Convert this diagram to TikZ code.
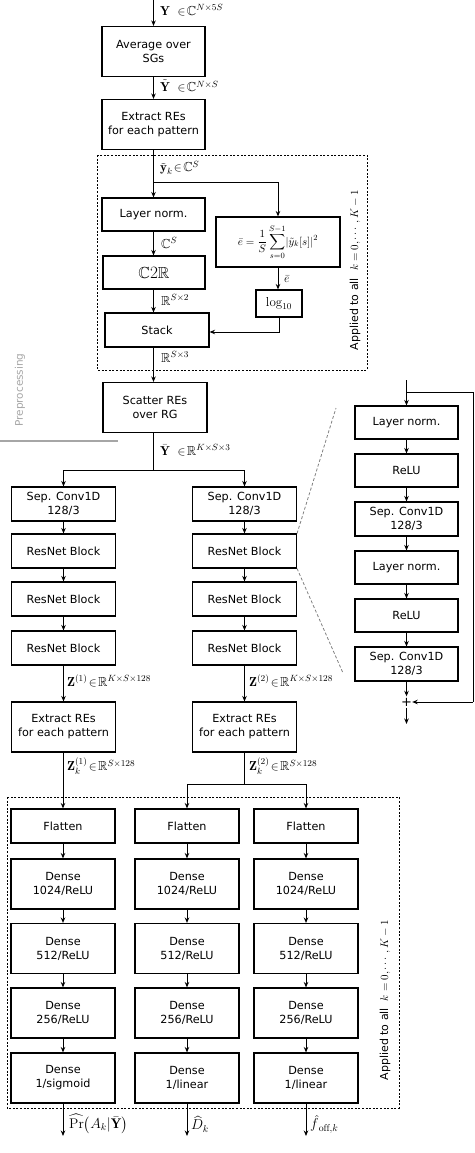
\documentclass[tikz,border=0pt]{standalone}
\usepackage{amsmath,amssymb}
\usepackage{fontspec}
\newfontfamily\vf{DejaVu Sans}
\usetikzlibrary{arrows.meta}
\tikzset{
  blk/.style={draw, line width=1.1pt, inner sep=1pt, align=center,
    font={\vf\fontsize{11.2}{14}\selectfont}, minimum width=104pt, minimum height=34pt},
  tall/.style={minimum height=50pt},
  arr/.style={-{Stealth[length=5.5pt,width=4.5pt]}, line width=1pt},
  ln/.style={line width=1pt},
  lbl/.style={anchor=west, inner sep=0pt, font={\fontsize{13}{15}\selectfont}},
  dbox/.style={dash pattern=on 2pt off 1.6pt, line width=1pt},
  zoomln/.style={gray, dash pattern=on 3pt off 2pt, line width=0.8pt},
  rot/.style={rotate=90, inner sep=0pt, font={\vf\fontsize{11}{13}\selectfont}}
}
\begin{document}
\begin{tikzpicture}[x=1pt,y=-1pt]
\useasboundingbox (0,0) rectangle (474,1153);

% ---------- preprocessing ----------
\coordinate (in) at (153.5,0);
\node[blk,tall,minimum width=103pt] (avg) at (153.5,51.5) {Average over\\SGs};
\node[blk,tall,minimum width=103pt] (ext) at (153.5,124.5) {Extract REs\\for each pattern};
\node[blk,minimum width=103pt,minimum height=33pt] (lnorm) at (153.5,214.5) {Layer norm.};
\node[blk,minimum width=102pt,minimum height=33pt,font={\fontsize{16}{18}\selectfont}] (c2r) at (154,272.5) {$\mathbb{C}2\mathbb{R}$};
\node[blk,minimum width=104pt] (stack) at (157,330) {Stack};
\node[blk,tall,minimum width=124pt,font={\fontsize{11}{13}\selectfont}] (eb) at (278,242)
  {$\displaystyle\bar{e}=\frac{1}{S}\sum_{s=0}^{S-1}\lvert\tilde{y}_k[s]\rvert^2$};
\node[blk,minimum width=46pt,minimum height=27pt,font={\fontsize{13}{15}\selectfont}] (lg) at (279,303.5) {$\log_{10}$};
\node[blk,tall,minimum width=104pt] (sc) at (155,407.5) {Scatter REs\\over RG};

\draw[dbox] (97,155) rectangle (367,370);
\node[rot] (app1) at (355,270) {Applied to all\ \ $k=0,\cdots,K-1$};

\draw[arr] (in) -- (avg.north);
\node[lbl] (l1) at (160,10) {$\mathbf{Y}\ \in\!\mathbb{C}^{N\times 5S}$};
\draw[arr] (avg.south) -- (ext.north);
\node[lbl] (l2) at (160,86) {$\tilde{\mathbf{Y}}\ \in\!\mathbb{C}^{N\times S}$};
\draw[arr] (ext.south) -- (lnorm.north);
\node[lbl] (l3) at (160,168) {$\tilde{\mathbf{y}}_k\!\in\!\mathbb{C}^{S}$};
\coordinate (br1) at (153.5,182);
\draw[arr] (br1) -| (eb.north);
\draw[arr] (lnorm.south) -- (lnorm.south |- c2r.north);
\node[lbl] (l4) at (161,243) {$\mathbb{C}^{S}$};
\draw[arr] (lnorm.south |- c2r.south) -- (lnorm.south |- stack.north);
\node[lbl] (l5) at (161,300) {$\mathbb{R}^{S\times 2}$};
\draw[arr] (eb.south) -- (eb.south |- lg.north);
\node[lbl] (l6) at (284,279) {$\bar{e}$};
\draw[arr] (lg.south) |- ([yshift=-2pt]stack.east);
\draw[arr] (lnorm.south |- stack.south) -- (lnorm.south |- sc.north);
\node[lbl] (l7) at (161,357) {$\mathbb{R}^{S\times 3}$};

% preprocessing marker
\draw[gray!70, line width=1.6pt] (0,441) -- (118,441);
\node[rot, gray!70, font={\vf\fontsize{10.5}{12}\selectfont}] (pre) at (20,390) {Preprocessing};

% ---------- branch into two trunks ----------
\coordinate (br2) at (153.5,470);
\draw[ln] (lnorm.south |- sc.south) -- (br2);
\node[lbl] (l8) at (160,450) {$\bar{\mathbf{Y}}\ \in\!\mathbb{R}^{K\times S\times 3}$};

\foreach \c/\x in {L/63.5, M/244.5}{
  \node[blk] (sep\c) at (\x,504) {Sep. Conv1D\\128/3};
  \node[blk] (ra\c) at (\x,551) {ResNet Block};
  \node[blk] (rb\c) at (\x,599) {ResNet Block};
  \node[blk] (rc\c) at (\x,648) {ResNet Block};
  \node[blk,tall] (ex\c) at (\x,727) {Extract REs\\for each pattern};
  \draw[arr] (sep\c.south) -- (ra\c.north);
  \draw[arr] (ra\c.south) -- (rb\c.north);
  \draw[arr] (rb\c.south) -- (rc\c.north);
  \draw[arr] (rc\c.south) -- (ex\c.north);
}
\draw[arr] (br2) -| (sepL.north);
\draw[arr] (br2) -| (sepM.north);
\node[lbl] (l9) at (67,681) {$\mathbf{Z}^{(1)}\!\in\!\mathbb{R}^{K\times S\times 128}$};
\node[lbl] (l10) at (249,681) {$\mathbf{Z}^{(2)}\!\in\!\mathbb{R}^{K\times S\times 128}$};
\node[lbl] (l11) at (67,766) {$\mathbf{Z}_k^{(1)}\!\in\!\mathbb{R}^{S\times 128}$};
\node[lbl] (l12) at (249,766) {$\mathbf{Z}_k^{(2)}\!\in\!\mathbb{R}^{S\times 128}$};

% ---------- ResNet block detail ----------
\node[blk,minimum width=103pt,minimum height=33pt] (d1) at (406.5,422.5) {Layer norm.};
\node[blk,minimum width=103pt,minimum height=33pt] (d2) at (406.5,470.5) {ReLU};
\node[blk,minimum width=103pt] (d3) at (406.5,519) {Sep. Conv1D\\128/3};
\node[blk,minimum width=103pt,minimum height=33pt] (d4) at (406.5,567.5) {Layer norm.};
\node[blk,minimum width=103pt,minimum height=33pt] (d5) at (406.5,615.5) {ReLU};
\node[blk,minimum width=103pt] (d6) at (406.5,664) {Sep. Conv1D\\128/3};
\node[inner sep=0pt, minimum size=11pt, font={\vf\fontsize{13}{13}\selectfont}] (plus) at (406.5,702) {+};
\coordinate (din) at (406.5,380);
\coordinate (dfb) at (406.5,392);
\coordinate (dcr1) at (473,392);
\coordinate (dcr2) at (473,702);
\coordinate (dout) at (406.5,724);
\draw[arr] (din) -- (d1.north);
\draw[arr] (d1.south) -- (d2.north);
\draw[arr] (d2.south) -- (d3.north);
\draw[arr] (d3.south) -- (d4.north);
\draw[arr] (d4.south) -- (d5.north);
\draw[arr] (d5.south) -- (d6.north);
\draw[arr] (d6.south) -- (plus.north);
\draw[arr] (plus.south) -- (dout);
\draw[ln] (dfb) -- (dcr1) -- (dcr2);
\draw[arr] (dcr2) -- (plus.east);
\coordinate (z1) at (336,408);
\coordinate (z2) at (343,673);
\draw[zoomln] (raM.north east) -- (z1);
\draw[zoomln] (raM.south east) -- (z2);

% ---------- heads ----------
\draw[dbox] (7,797) rectangle (399,1108);
\node[rot] (app2) at (385,1000) {Applied to all\ \ $k=0,\cdots,K-1$};

\foreach \c/\x/\last in {L/63/{Dense\\1/sigmoid}, M/187/{Dense\\1/linear}, R/306/{Dense\\1/linear}}{
  \node[blk] (fl\c) at (\x,826) {Flatten};
  \node[blk,tall] (da\c) at (\x,884) {Dense\\1024/ReLU};
  \node[blk,tall] (db\c) at (\x,948.5) {Dense\\512/ReLU};
  \node[blk,tall] (dc\c) at (\x,1013) {Dense\\256/ReLU};
  \node[blk,tall] (dd\c) at (\x,1078) {\last};
  \draw[arr] (fl\c.south) -- (da\c.north);
  \draw[arr] (da\c.south) -- (db\c.north);
  \draw[arr] (db\c.south) -- (dc\c.north);
  \draw[arr] (dc\c.south) -- (dd\c.north);
}
\draw[arr] (exL.south -| flL.north) -- (flL.north);
\coordinate (br3) at (244.5,784);
\draw[ln] (exM.south) -- (br3);
\draw[arr] (br3) -| (flM.north);
\draw[arr] (br3) -| (flR.north);

\coordinate (oL) at (63,1136);
\coordinate (oM) at (187,1136);
\coordinate (oR) at (306,1136);
\draw[arr] (ddL.south) -- (oL);
\draw[arr] (ddM.south) -- (oM);
\draw[arr] (ddR.south) -- (oR);
\node[lbl,font={\fontsize{14}{16}\selectfont}] (o1) at (69,1124) {$\widehat{\mathrm{Pr}}\bigl(A_k|\bar{\mathbf{Y}}\bigr)$};
\node[lbl,font={\fontsize{14}{16}\selectfont}] (o2) at (191,1124) {$\widehat{D}_k$};
\node[lbl,font={\fontsize{14}{16}\selectfont}] (o3) at (310,1124) {$\hat{f}_{\,\mathrm{off},k}$};
\end{tikzpicture}
\end{document}
